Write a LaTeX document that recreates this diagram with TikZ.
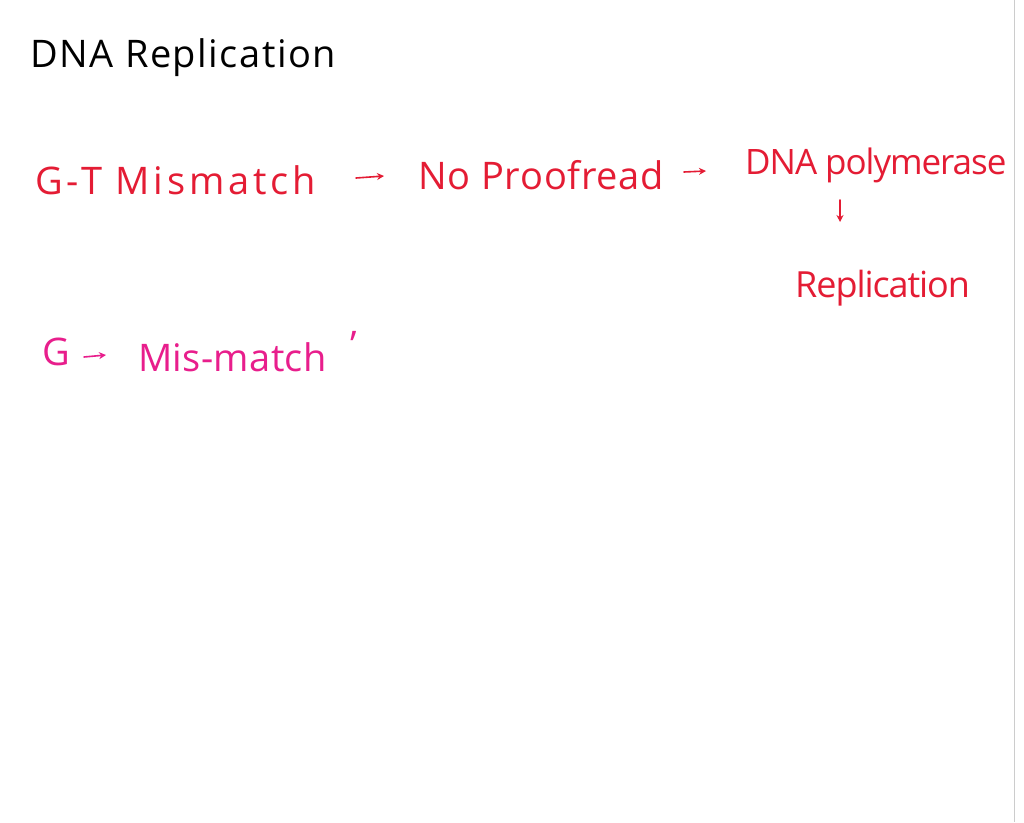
\documentclass[tikz,border=0pt]{standalone}
\usepackage{fontspec}
\usetikzlibrary{arrows.meta}
\setmainfont{Open Sans}
\definecolor{pen}{RGB}{228,28,52}
\definecolor{mag}{RGB}{232,30,140}
\begin{document}
\begin{tikzpicture}[x=1pt,y=-1pt,
  lab/.style={inner sep=0pt,anchor=west,font=\fontsize{38}{42}\selectfont\addfontfeature{LetterSpace=10}},
  arr/.style={-{Stealth[length=7pt,width=7pt]},line width=1.6pt,line cap=round}]
\useasboundingbox (0,0) rectangle (1024,822);
\fill[white] (0,0) rectangle (1024,822);
\draw[gray!40,line width=1pt] (1014,0) -- (1014,822);
\node[lab,black,font=\fontsize{38}{42}\selectfont\addfontfeature{LetterSpace=4}] (title) at (30,58) {DNA Replication};
\node[lab,pen] (n1) at (35,180) {G-T Mismatch};
\node[lab,pen,font=\fontsize{38}{42}\selectfont\addfontfeature{LetterSpace=2}] (n2) at (418,175) {No Proofread};
\node[lab,pen,font=\fontsize{35}{40}\selectfont\addfontfeature{LetterSpace=-3}] (n3) at (745,165) {DNA polymerase};
\node[lab,pen,font=\fontsize{36}{40}\selectfont\addfontfeature{LetterSpace=-3}] (n4) at (795,288) {Replication};
\node[lab,mag,font=\fontsize{38}{42}\selectfont\addfontfeature{LetterSpace=0}] (m1) at (42,352) {G};
\node[lab,mag,font=\fontsize{38}{42}\selectfont\addfontfeature{LetterSpace=1}] (m2) at (138,357) {Mis-match};
\node[lab,mag] (tick) at (350,345) {'};
\coordinate (a1) at (356,178); \coordinate (b1) at (384,176);
\coordinate (a2) at (684,172); \coordinate (b2) at (706,171);
\coordinate (a3) at (840,200); \coordinate (b3) at (840,222);
\coordinate (a4) at (84,357); \coordinate (b4) at (106,355);
\draw[arr,pen] (a1) -- (b1);
\draw[arr,pen] (a2) -- (b2);
\draw[arr,pen] (a3) -- (b3);
\draw[arr,mag] (a4) -- (b4);
\end{tikzpicture}
\end{document}
